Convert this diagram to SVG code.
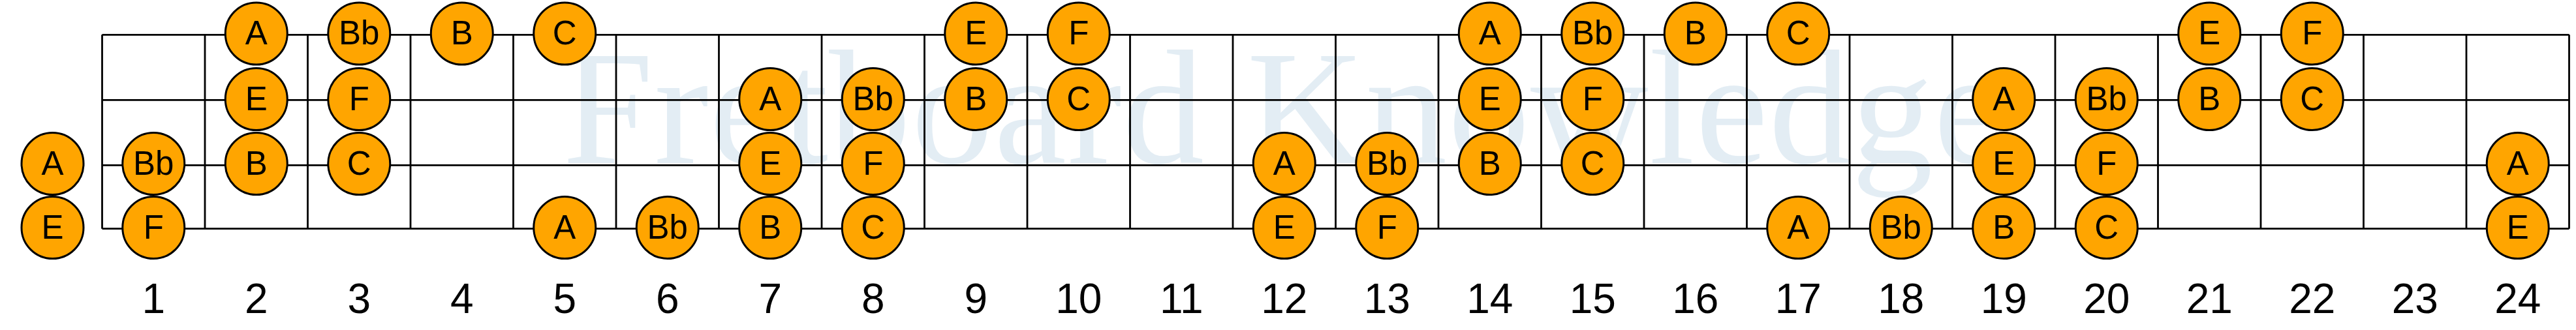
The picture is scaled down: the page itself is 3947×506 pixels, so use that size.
<svg xmlns="http://www.w3.org/2000/svg" width="3947" height="506" viewBox="0 0 3947 506">
<style>
.bg{fill:#ffffff}
.wm{font-family:"Liberation Serif","Times New Roman",serif;font-size:250px;fill:#e3edf4}
.ln{stroke:#000000;stroke-width:2.8;fill:none}
.nc{fill:#ffa500;stroke:#000000;stroke-width:3}
.nt{font-family:"Liberation Sans",Arial,sans-serif;font-size:51px;fill:#000000;text-anchor:middle}
.fn{font-family:"Liberation Sans",Arial,sans-serif;font-size:64px;fill:#000000;text-anchor:middle}
</style>
<rect class="bg" x="0" y="0" width="3947" height="506"/>
<text class="wm" x="862" y="250" textLength="2212" lengthAdjust="spacing">Fretboard Knowledge</text>
<g id="fretboard" class="ln">
<line x1="156.5" y1="53.3" x2="3936.5" y2="53.3"/>
<line x1="156.5" y1="153.3" x2="3936.5" y2="153.3"/>
<line x1="156.5" y1="253.3" x2="3936.5" y2="253.3"/>
<line x1="156.5" y1="350.7" x2="3936.5" y2="350.7"/>
<line x1="156.5" y1="53.3" x2="156.5" y2="350.7"/>
<line x1="314" y1="53.3" x2="314" y2="350.7"/>
<line x1="471.5" y1="53.3" x2="471.5" y2="350.7"/>
<line x1="629" y1="53.3" x2="629" y2="350.7"/>
<line x1="786.5" y1="53.3" x2="786.5" y2="350.7"/>
<line x1="944" y1="53.3" x2="944" y2="350.7"/>
<line x1="1101.5" y1="53.3" x2="1101.5" y2="350.7"/>
<line x1="1259" y1="53.3" x2="1259" y2="350.7"/>
<line x1="1416.5" y1="53.3" x2="1416.5" y2="350.7"/>
<line x1="1574" y1="53.3" x2="1574" y2="350.7"/>
<line x1="1731.5" y1="53.3" x2="1731.5" y2="350.7"/>
<line x1="1889" y1="53.3" x2="1889" y2="350.7"/>
<line x1="2046.5" y1="53.3" x2="2046.5" y2="350.7"/>
<line x1="2204" y1="53.3" x2="2204" y2="350.7"/>
<line x1="2361.5" y1="53.3" x2="2361.5" y2="350.7"/>
<line x1="2519" y1="53.3" x2="2519" y2="350.7"/>
<line x1="2676.5" y1="53.3" x2="2676.5" y2="350.7"/>
<line x1="2834" y1="53.3" x2="2834" y2="350.7"/>
<line x1="2991.5" y1="53.3" x2="2991.5" y2="350.7"/>
<line x1="3149" y1="53.3" x2="3149" y2="350.7"/>
<line x1="3306.5" y1="53.3" x2="3306.5" y2="350.7"/>
<line x1="3464" y1="53.3" x2="3464" y2="350.7"/>
<line x1="3621.5" y1="53.3" x2="3621.5" y2="350.7"/>
<line x1="3779" y1="53.3" x2="3779" y2="350.7"/>
<line x1="3936.5" y1="53.3" x2="3936.5" y2="350.7"/>
</g>
<g id="fret-numbers">
<text class="fn" x="235.25" y="480">1</text>
<text class="fn" x="392.75" y="480">2</text>
<text class="fn" x="550.25" y="480">3</text>
<text class="fn" x="707.75" y="480">4</text>
<text class="fn" x="865.25" y="480">5</text>
<text class="fn" x="1022.75" y="480">6</text>
<text class="fn" x="1180.25" y="480">7</text>
<text class="fn" x="1337.75" y="480">8</text>
<text class="fn" x="1495.25" y="480">9</text>
<text class="fn" x="1652.75" y="480">10</text>
<text class="fn" x="1810.25" y="480">11</text>
<text class="fn" x="1967.75" y="480">12</text>
<text class="fn" x="2125.25" y="480">13</text>
<text class="fn" x="2282.75" y="480">14</text>
<text class="fn" x="2440.25" y="480">15</text>
<text class="fn" x="2597.75" y="480">16</text>
<text class="fn" x="2755.25" y="480">17</text>
<text class="fn" x="2912.75" y="480">18</text>
<text class="fn" x="3070.25" y="480">19</text>
<text class="fn" x="3227.75" y="480">20</text>
<text class="fn" x="3385.25" y="480">21</text>
<text class="fn" x="3542.75" y="480">22</text>
<text class="fn" x="3700.25" y="480">23</text>
<text class="fn" x="3857.75" y="480">24</text>
</g>
<!-- String 1 (top) -->
<g id="s1-f2"><circle class="nc" cx="392.75" cy="51.5" r="47.5"/><text class="nt" x="392.75" y="68">A</text></g>
<g id="s1-f3"><circle class="nc" cx="550.25" cy="51.5" r="47.5"/><text class="nt" x="550.25" y="68">Bb</text></g>
<g id="s1-f4"><circle class="nc" cx="707.75" cy="51.5" r="47.5"/><text class="nt" x="707.75" y="68">B</text></g>
<g id="s1-f5"><circle class="nc" cx="865.25" cy="51.5" r="47.5"/><text class="nt" x="865.25" y="68">C</text></g>
<g id="s1-f9"><circle class="nc" cx="1495.25" cy="51.5" r="47.5"/><text class="nt" x="1495.25" y="68">E</text></g>
<g id="s1-f10"><circle class="nc" cx="1652.75" cy="51.5" r="47.5"/><text class="nt" x="1652.75" y="68">F</text></g>
<g id="s1-f14"><circle class="nc" cx="2282.75" cy="51.5" r="47.5"/><text class="nt" x="2282.75" y="68">A</text></g>
<g id="s1-f15"><circle class="nc" cx="2440.25" cy="51.5" r="47.5"/><text class="nt" x="2440.25" y="68">Bb</text></g>
<g id="s1-f16"><circle class="nc" cx="2597.75" cy="51.5" r="47.5"/><text class="nt" x="2597.75" y="68">B</text></g>
<g id="s1-f17"><circle class="nc" cx="2755.25" cy="51.5" r="47.5"/><text class="nt" x="2755.25" y="68">C</text></g>
<g id="s1-f21"><circle class="nc" cx="3385.25" cy="51.5" r="47.5"/><text class="nt" x="3385.25" y="68">E</text></g>
<g id="s1-f22"><circle class="nc" cx="3542.75" cy="51.5" r="47.5"/><text class="nt" x="3542.75" y="68">F</text></g>
<!-- String 2 -->
<g id="s2-f2"><circle class="nc" cx="392.75" cy="152" r="47.5"/><text class="nt" x="392.75" y="168.5">E</text></g>
<g id="s2-f3"><circle class="nc" cx="550.25" cy="152" r="47.5"/><text class="nt" x="550.25" y="168.5">F</text></g>
<g id="s2-f7"><circle class="nc" cx="1180.25" cy="152" r="47.5"/><text class="nt" x="1180.25" y="168.5">A</text></g>
<g id="s2-f8"><circle class="nc" cx="1337.75" cy="152" r="47.5"/><text class="nt" x="1337.75" y="168.5">Bb</text></g>
<g id="s2-f9"><circle class="nc" cx="1495.25" cy="152" r="47.5"/><text class="nt" x="1495.25" y="168.5">B</text></g>
<g id="s2-f10"><circle class="nc" cx="1652.75" cy="152" r="47.5"/><text class="nt" x="1652.75" y="168.5">C</text></g>
<g id="s2-f14"><circle class="nc" cx="2282.75" cy="152" r="47.5"/><text class="nt" x="2282.75" y="168.5">E</text></g>
<g id="s2-f15"><circle class="nc" cx="2440.25" cy="152" r="47.5"/><text class="nt" x="2440.25" y="168.5">F</text></g>
<g id="s2-f19"><circle class="nc" cx="3070.25" cy="152" r="47.5"/><text class="nt" x="3070.25" y="168.5">A</text></g>
<g id="s2-f20"><circle class="nc" cx="3227.75" cy="152" r="47.5"/><text class="nt" x="3227.75" y="168.5">Bb</text></g>
<g id="s2-f21"><circle class="nc" cx="3385.25" cy="152" r="47.5"/><text class="nt" x="3385.25" y="168.5">B</text></g>
<g id="s2-f22"><circle class="nc" cx="3542.75" cy="152" r="47.5"/><text class="nt" x="3542.75" y="168.5">C</text></g>
<!-- String 3 -->
<g id="s3-f0"><circle class="nc" cx="80.5" cy="251" r="47.5"/><text class="nt" x="80.5" y="267.5">A</text></g>
<g id="s3-f1"><circle class="nc" cx="235.25" cy="251" r="47.5"/><text class="nt" x="235.25" y="267.5">Bb</text></g>
<g id="s3-f2"><circle class="nc" cx="392.75" cy="251" r="47.5"/><text class="nt" x="392.75" y="267.5">B</text></g>
<g id="s3-f3"><circle class="nc" cx="550.25" cy="251" r="47.5"/><text class="nt" x="550.25" y="267.5">C</text></g>
<g id="s3-f7"><circle class="nc" cx="1180.25" cy="251" r="47.5"/><text class="nt" x="1180.25" y="267.5">E</text></g>
<g id="s3-f8"><circle class="nc" cx="1337.75" cy="251" r="47.5"/><text class="nt" x="1337.75" y="267.5">F</text></g>
<g id="s3-f12"><circle class="nc" cx="1967.75" cy="251" r="47.5"/><text class="nt" x="1967.75" y="267.5">A</text></g>
<g id="s3-f13"><circle class="nc" cx="2125.25" cy="251" r="47.5"/><text class="nt" x="2125.25" y="267.5">Bb</text></g>
<g id="s3-f14"><circle class="nc" cx="2282.75" cy="251" r="47.5"/><text class="nt" x="2282.75" y="267.5">B</text></g>
<g id="s3-f15"><circle class="nc" cx="2440.25" cy="251" r="47.5"/><text class="nt" x="2440.25" y="267.5">C</text></g>
<g id="s3-f19"><circle class="nc" cx="3070.25" cy="251" r="47.5"/><text class="nt" x="3070.25" y="267.5">E</text></g>
<g id="s3-f20"><circle class="nc" cx="3227.75" cy="251" r="47.5"/><text class="nt" x="3227.75" y="267.5">F</text></g>
<g id="s3-f24"><circle class="nc" cx="3857.75" cy="251" r="47.5"/><text class="nt" x="3857.75" y="267.5">A</text></g>
<!-- String 4 (bottom) -->
<g id="s4-f0"><circle class="nc" cx="80.5" cy="349" r="47.5"/><text class="nt" x="80.5" y="365.5">E</text></g>
<g id="s4-f1"><circle class="nc" cx="235.25" cy="349" r="47.5"/><text class="nt" x="235.25" y="365.5">F</text></g>
<g id="s4-f5"><circle class="nc" cx="865.25" cy="349" r="47.5"/><text class="nt" x="865.25" y="365.5">A</text></g>
<g id="s4-f6"><circle class="nc" cx="1022.75" cy="349" r="47.5"/><text class="nt" x="1022.75" y="365.5">Bb</text></g>
<g id="s4-f7"><circle class="nc" cx="1180.25" cy="349" r="47.5"/><text class="nt" x="1180.25" y="365.5">B</text></g>
<g id="s4-f8"><circle class="nc" cx="1337.75" cy="349" r="47.5"/><text class="nt" x="1337.75" y="365.5">C</text></g>
<g id="s4-f12"><circle class="nc" cx="1967.75" cy="349" r="47.5"/><text class="nt" x="1967.75" y="365.5">E</text></g>
<g id="s4-f13"><circle class="nc" cx="2125.25" cy="349" r="47.5"/><text class="nt" x="2125.25" y="365.5">F</text></g>
<g id="s4-f17"><circle class="nc" cx="2755.25" cy="349" r="47.5"/><text class="nt" x="2755.25" y="365.5">A</text></g>
<g id="s4-f18"><circle class="nc" cx="2912.75" cy="349" r="47.5"/><text class="nt" x="2912.75" y="365.5">Bb</text></g>
<g id="s4-f19"><circle class="nc" cx="3070.25" cy="349" r="47.5"/><text class="nt" x="3070.25" y="365.5">B</text></g>
<g id="s4-f20"><circle class="nc" cx="3227.75" cy="349" r="47.5"/><text class="nt" x="3227.75" y="365.5">C</text></g>
<g id="s4-f24"><circle class="nc" cx="3857.75" cy="349" r="47.5"/><text class="nt" x="3857.75" y="365.5">E</text></g>
</svg>
